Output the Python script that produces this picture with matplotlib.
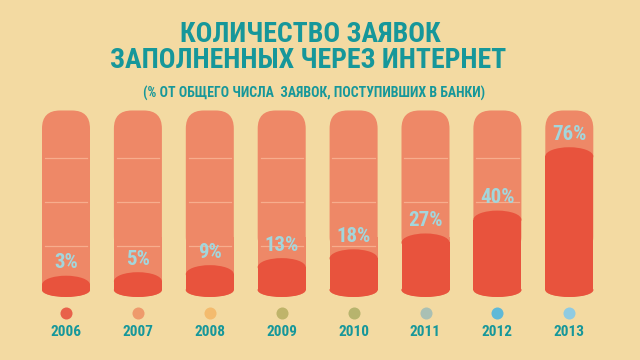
import matplotlib
matplotlib.use("Agg")
import matplotlib.pyplot as plt
from matplotlib.patches import FancyBboxPatch, Ellipse, Rectangle

#### Data

YEARS = ["2006", "2007", "2008", "2009", "2010", "2011", "2012", "2013"]
SHARES = [3, 5, 9, 13, 18, 27, 40, 76]
LABELS = ["3%", "5%", "9%", "13%", "18%", "27%", "40%", "76%"]
DOT_COLORS = ["#e8614a", "#ee9a6c", "#f3bb6e", "#bfb46a", "#b7b46e",
              "#a9c0b4", "#5fb9d8", "#8fcbe2"]
GRID_LEVELS = [25, 50, 75]

TITLE_1 = "КОЛИЧЕСТВО ЗАЯВОК"
TITLE_2 = "ЗАПОЛНЕННЫХ ЧЕРЕЗ ИНТЕРНЕТ"
SUBTITLE = "(% ОТ ОБЩЕГО ЧИСЛА  ЗАЯВОК, ПОСТУПИВШИХ В БАНКИ)"

BG = "#f3daa2"
TUBE = "#ee8867"
FILL = "#e8533d"
TEAL = "#16979a"
LABEL_BLUE = "#a3d6dc"
NARROW = ["Roboto Condensed", "Liberation Sans Narrow", "DejaVu Sans Condensed",
          "Roboto", "DejaVu Sans"]

# pixel geometry of the plot area (figure is 640x360)
X0_PX, DX_PX = 66, 71.9       # centre of first tube, spacing
BASE_PX, PX_PER_UNIT = 290, 1.76
BAR_W = 48 / DX_PX            # tube width in x units
CAP_H = 18 / PX_PER_UNIT      # ellipse height in y units

fig = plt.figure(figsize=(6.4, 3.6), dpi=100)
fig.patch.set_facecolor(BG)
ax = fig.add_axes([0, 0, 1, 1])
ax.set_facecolor(BG)
ax.set_xlim(-X0_PX / DX_PX, (640 - X0_PX) / DX_PX)
ax.set_ylim(-(360 - BASE_PX) / PX_PER_UNIT, BASE_PX / PX_PER_UNIT)
ax.axis("off")

aspect = DX_PX / PX_PER_UNIT
for i, (val, lab, col) in enumerate(zip(SHARES, LABELS, DOT_COLORS)):
    left = i - BAR_W / 2
    # empty tube: rounded top, elliptical bottom
    ax.add_patch(FancyBboxPatch((left, 20), BAR_W, 82, mutation_aspect=aspect,
                                boxstyle=f"round,pad=0,rounding_size={18 / DX_PX}",
                                fc=TUBE, ec="none", zorder=1))
    ax.add_patch(Rectangle((left, 0), BAR_W, 30, fc=TUBE, ec="none", zorder=1))
    ax.add_patch(Ellipse((i, 0), BAR_W, 14 / PX_PER_UNIT, fc=TUBE, ec="none", zorder=1))
    for g in GRID_LEVELS:
        ax.plot([left + 0.04, left + BAR_W - 0.04], [g, g], color="#f7ad8d",
                lw=0.9, zorder=2)
    # filled part
    ax.bar(i, val, width=BAR_W, bottom=0, color=FILL, zorder=3)
    ax.add_patch(Ellipse((i, 0), BAR_W, 14 / PX_PER_UNIT, fc=FILL, ec="none", zorder=3))
    ax.add_patch(Ellipse((i, val), BAR_W, CAP_H, fc=FILL, ec="none", zorder=3))
    ax.text(i, val + 12.5, lab, ha="center", va="center", color=LABEL_BLUE,
            fontsize=15, fontweight="bold", family=NARROW, zorder=4)
    # year marker
    ax.scatter(i, -(313 - BASE_PX) / PX_PER_UNIT, s=75, color=col, zorder=3,
               linewidths=0)
    ax.text(i, -(332 - BASE_PX) / PX_PER_UNIT, YEARS[i], ha="center", va="center",
            color=TEAL, fontsize=11, fontweight="bold", family=NARROW)

title_font = dict(ha="center", va="center", color=TEAL, fontweight="bold",
                  family=NARROW)
fig.text(310 / 640, 1 - 35 / 360, TITLE_1, fontsize=20, **title_font)
fig.text(308 / 640, 1 - 61 / 360, TITLE_2, fontsize=20, **title_font)
fig.text(314 / 640, 1 - 93 / 360, SUBTITLE, fontsize=10, **title_font)

fig.savefig("out.png", dpi=100, facecolor=BG)
